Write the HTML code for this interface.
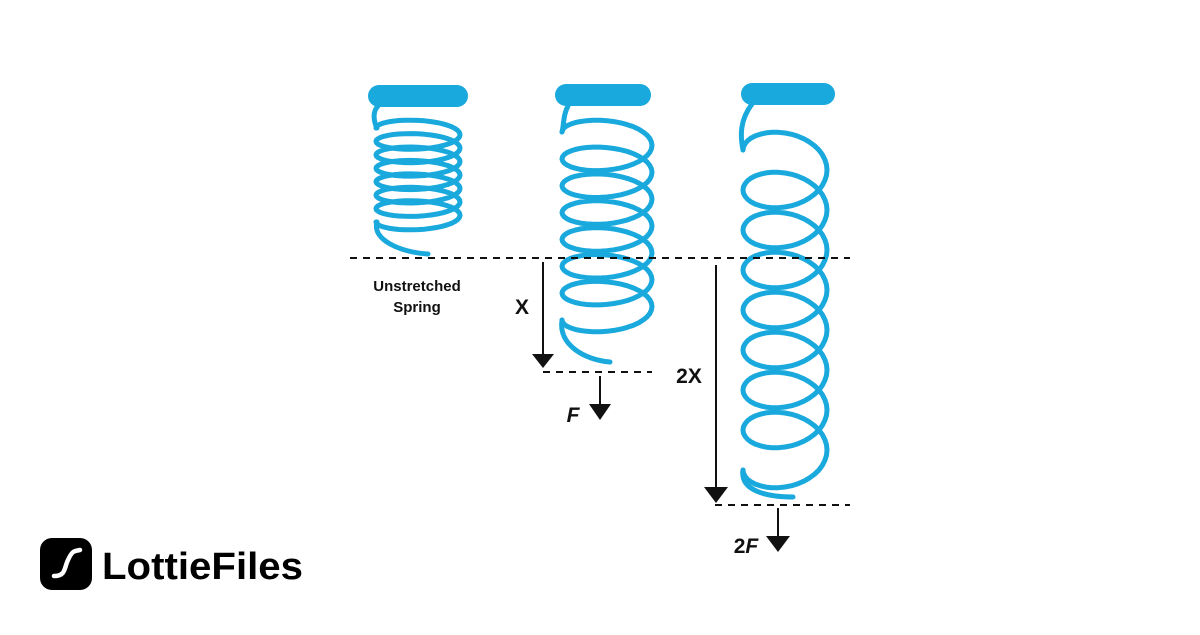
<!DOCTYPE html>
<html><head><style>
body{margin:0;width:1200px;height:630px;background:#fff;overflow:hidden;font-family:"Liberation Sans",sans-serif;}
</style></head><body>
<svg width="1200" height="630" xmlns="http://www.w3.org/2000/svg">
<g fill="none" stroke="#1aa9dc" stroke-width="5" stroke-linecap="round" stroke-linejoin="round">
  <path id="s1"/>
  <path id="s2"/>
  <path id="s3"/>
  <path d="M378 106 C372 112 374 122 377 128"/>
  <path d="M377 222 C372 240 400 252 428 254"/>
  <path d="M568 106 C563 115 564 125 562 132"/>
  <path d="M562 320 C558 345 585 360 610 362"/>
  <path d="M752 104 C740 120 740 135 743 150"/>
  <path d="M743 470 C740 490 765 497 793 497"/>
</g>
<g fill="#1aa9dc">
  <rect x="368" y="85" width="100" height="22" rx="11"/>
  <rect x="555" y="84" width="96" height="22" rx="11"/>
  <rect x="741" y="83" width="94" height="22" rx="11"/>
</g>
<g stroke="#111" stroke-width="2" stroke-dasharray="7,6">
  <line x1="350" y1="258" x2="850" y2="258"/>
  <line x1="543" y1="372" x2="652" y2="372"/>
  <line x1="715" y1="505" x2="850" y2="505"/>
</g>
<g stroke="#111" stroke-width="2">
  <line x1="543" y1="262" x2="543" y2="356"/>
  <line x1="600" y1="376" x2="600" y2="406"/>
  <line x1="716" y1="265" x2="716" y2="490"/>
  <line x1="778" y1="508" x2="778" y2="538"/>
</g>
<g fill="#111">
  <polygon points="532,354 554,354 543,368"/>
  <polygon points="589,404 611,404 600,420"/>
  <polygon points="704,487 728,487 716,503"/>
  <polygon points="766,536 790,536 778,552"/>
</g>
<g fill="#111" font-weight="bold" font-family="Liberation Sans,sans-serif">
  <text x="417" y="291" font-size="15" text-anchor="middle">Unstretched</text>
  <text x="417" y="312" font-size="15" text-anchor="middle">Spring</text>
  <text x="522" y="314" font-size="21" text-anchor="middle">X</text>
  <text x="573" y="422" font-size="21" font-style="italic" text-anchor="middle">F</text>
  <text x="689" y="383" font-size="21" text-anchor="middle">2X</text>
  <text x="746" y="553" font-size="21" text-anchor="middle">2<tspan font-style="italic">F</tspan></text>
</g>
<rect x="40" y="538" width="52" height="52" rx="12" fill="#000"/>
<path d="M54 576 C66 576 64 568 68 560 C72 551 74 551 80 550" fill="none" stroke="#fff" stroke-width="4.5" stroke-linecap="round"/>
<text x="102" y="579" font-size="38" font-weight="bold" fill="#000" font-family="Liberation Sans,sans-serif" textLength="201" lengthAdjust="spacingAndGlyphs">LottieFiles</text>
</svg>
<script>
function helix(id,cx,r,ry,y0,y1,n){
  var d="",steps=n*40;
  for(var i=0;i<=steps;i++){
    var t=i/40*2*Math.PI;
    var x=cx - r*Math.cos(t);
    var y=y0+(y1-y0)*i/steps - ry*Math.sin(t);
    d+=(i?"L":"M")+x.toFixed(1)+" "+y.toFixed(1);
  }
  document.getElementById(id).setAttribute("d",d);
}
helix("s1",418,42,11,128,222,7);
helix("s2",607,45,18,132,320,7);
helix("s3",785,42,27,150,470,8);
</script>
</body></html>
